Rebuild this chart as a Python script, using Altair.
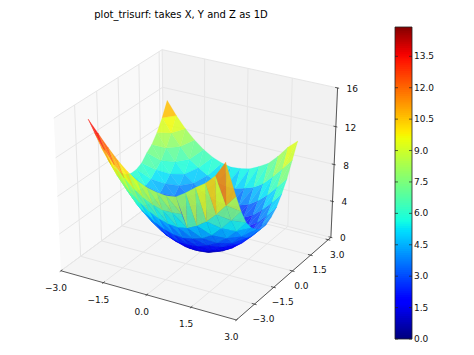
import math
import altair as alt

TITLE = "plot_trisurf: takes X, Y and Z as 1D"
XLIM = (-3.0, 3.0)
YLIM = (-4.37, 3.23)
ZLIM = (0.0, 16.0)
X_TICKS = [-3.0, -1.5, 0.0, 1.5, 3.0]
Y_TICKS = [-3.0, -1.5, 0.0, 1.5, 3.0]
Z_TICKS = [0, 4, 8, 12, 16]
CB_TICKS = [0.0, 1.5, 3.0, 4.5, 6.0, 7.5, 9.0, 10.5, 12.0, 13.5]
CB_MAX = 14.9

ROW_Y = [-3.0, -2.6, -2.2, -1.8, -1.4, -1.0, -0.6, -0.2, 0.2, 0.6, 1.0, 1.4, 1.8, 2.2, 2.6]
ROW_X_LEFT = [-2.55, -2.55, -2.54, -2.54, -2.54, -2.53, -2.53, -2.53, -2.53, -2.53, -2.53, -2.54, -2.54, -2.54, -2.54]
ROW_X_RIGHT = [2.0, 2.0, 2.0, 2.0, 2.0, 2.0, 2.0, 2.0, 2.0, 2.0, 2.0, 2.0, 2.0, 2.0, 2.0]
COLS = 15
# long thin triangles run from the rim (row 0) to row STRIP_ROWS from column STRIP_FROM on
STRIP_ROWS = 2
STRIP_FROM = 9
Z = [
    [14.9, 13.7, 12.5, 11.4, 10.5, 9.8, 9.35, 9.1, 9.0, 9.15, 9.8, 10.6, 11.3, 12.3, 13.9],
    [13.1, 11.6, 10.3, 9.2, 8.3, 7.6, 7.1, 6.8, 6.8, 6.9, 7.5, 8.4, 9.3, 10.4, 11.8],
    [11.2, 9.7, 8.4, 7.2, 6.4, 5.7, 5.2, 4.9, 4.8, 5.0, 5.5, 6.2, 7.2, 8.4, 9.6],
    [9.6, 8.1, 6.8, 5.6, 4.8, 4.1, 3.6, 3.3, 3.2, 3.4, 3.7, 4.3, 5.3, 6.4, 7.6],
    [8.3, 6.8, 5.5, 4.4, 3.5, 2.8, 2.3, 2.0, 2.0, 2.1, 2.5, 3.0, 3.8, 4.8, 6.0],
    [7.4, 5.8, 4.5, 3.4, 2.5, 1.8, 1.4, 1.1, 1.0, 1.1, 1.5, 2.1, 2.8, 3.8, 5.0],
    [6.7, 5.2, 3.9, 2.8, 1.9, 1.2, 0.7, 0.4, 0.4, 0.5, 0.9, 1.4, 2.2, 3.2, 4.4],
    [6.4, 4.9, 3.6, 2.4, 1.6, 0.9, 0.4, 0.1, 0.0, 0.2, 0.5, 1.1, 1.9, 2.9, 4.0],
    [6.4, 4.9, 3.6, 2.4, 1.6, 0.9, 0.4, 0.1, 0.0, 0.2, 0.5, 1.1, 1.9, 2.9, 4.0],
    [6.7, 5.2, 3.9, 2.8, 1.9, 1.2, 0.7, 0.4, 0.4, 0.5, 0.9, 1.4, 2.2, 3.2, 4.4],
    [7.4, 5.8, 4.5, 3.4, 2.5, 1.8, 1.4, 1.1, 1.0, 1.1, 1.5, 2.1, 2.8, 3.8, 5.0],
    [7.9, 6.4, 5.15, 4.1, 3.25, 2.6, 2.1, 1.85, 1.85, 2.0, 2.4, 2.9, 3.75, 4.8, 6.0],
    [8.8, 7.35, 6.1, 4.95, 4.2, 3.55, 3.1, 2.85, 2.8, 3.05, 3.4, 4.05, 4.95, 6.05, 7.2],
    [10.0, 8.6, 7.35, 6.2, 5.5, 4.9, 4.45, 4.2, 4.2, 4.5, 4.85, 5.5, 6.5, 7.6, 8.8],
    [11.5, 10.1, 8.9, 7.9, 7.1, 6.5, 6.1, 5.9, 6.0, 6.2, 6.7, 7.3, 8.3, 9.5, 10.4],
]

JET_POS = [0, .11, .125, .34, .35, .375, .64, .65, .66, .89, .91, 1]
JET_COL = ["#000080", "#0000ff", "#0000ff", "#00dbff", "#00e5f7", "#14ffe2",
           "#efff08", "#f7f600", "#ffec00", "#ff1300", "#f50000", "#800000"]

# camera (mplot3d: elev 30, azim -60, dist 10)
ELEV, AZIM, DIST = math.radians(30), math.radians(-60), 10.0
PX0, PY0, PXS, PYS = 190.0, 172.2, 2025.0, 1743.0
W, H = 458, 339
n = (math.cos(AZIM) * math.cos(ELEV), math.sin(AZIM) * math.cos(ELEV), math.sin(ELEV))
u = (-math.sin(AZIM), math.cos(AZIM), 0.0)
v = (n[1] * u[2] - n[2] * u[1], n[2] * u[0] - n[0] * u[2], n[0] * u[1] - n[1] * u[0])


def norm(x, y, z):
    return ((x - XLIM[0]) / (XLIM[1] - XLIM[0]) - .5,
            (y - YLIM[0]) / (YLIM[1] - YLIM[0]) - .5,
            (z - ZLIM[0]) / (ZLIM[1] - ZLIM[0]) - .5)


def dot(a, b):
    return a[0] * b[0] + a[1] * b[1] + a[2] * b[2]


def proj(x, y, z):
    p = norm(x, y, z)
    w = DIST - dot(p, n)
    return [round(PX0 + PXS * dot(p, u) / w, 2), round(PY0 - PYS * dot(p, v) / w, 2)]


def depth(x, y, z):
    return dot(norm(x, y, z), n)


def line(pts):
    return {"type": "Feature", "properties": {},
            "geometry": {"type": "LineString", "coordinates": [proj(*p) for p in pts]}}


def poly(pts, **props):
    ring = [proj(*p) for p in pts]
    ring.append(ring[0])
    return {"type": "Feature", "properties": props,
            "geometry": {"type": "Polygon", "coordinates": [ring]}}


x0, x1 = XLIM
y0, y1 = YLIM
z0, z1 = ZLIM

wall_left = [poly([(x0, y0, z0), (x0, y1, z0), (x0, y1, z1), (x0, y0, z1)])]
wall_back = [poly([(x0, y1, z0), (x1, y1, z0), (x1, y1, z1), (x0, y1, z1)])]
wall_floor = [poly([(x0, y0, z0), (x1, y0, z0), (x1, y1, z0), (x0, y1, z0)])]

grid = []
for t in X_TICKS:
    grid.append(line([(t, y0, z0), (t, y1, z0), (t, y1, z1)]))
for t in Y_TICKS:
    grid.append(line([(x1, t, z0), (x0, t, z0), (x0, t, z1)]))
for t in Z_TICKS:
    grid.append(line([(x0, y0, t), (x0, y1, t), (x1, y1, t)]))

axes = [
    line([(x0, y0, z0), (x1, y0, z0)]),
    line([(x1, y0, z0), (x1, y1, z0)]),
    line([(x1, y1, z0), (x1, y1, z1)]),
]
for t in X_TICKS:
    axes.append(line([(t, y0 + .1, z0), (t, y0 - .08, z0)]))
for t in Y_TICKS:
    axes.append(line([(x1 - .09, t, z0), (x1 + .07, t, z0)]))
for t in Z_TICKS:
    axes.append(line([(x1 - .08, y1, t), (x1 + .05, y1, t)]))

verts = [[(ROW_X_LEFT[r] + (ROW_X_RIGHT[r] - ROW_X_LEFT[r]) * c / (COLS - 1), ROW_Y[r], Z[r][c])
          for c in range(COLS)] for r in range(len(ROW_Y))]
tris = []
for r in range(len(ROW_Y) - 1):
    for c in range(COLS - 1):
        if c >= STRIP_FROM and r < STRIP_ROWS:
            continue
        a, b, d, e = verts[r][c], verts[r][c + 1], verts[r + 1][c + 1], verts[r + 1][c]
        tris.extend([(a, b, d), (a, d, e)])
for c in range(STRIP_FROM, COLS - 1):
    a, b = verts[0][c], verts[0][c + 1]
    d, e = verts[STRIP_ROWS][c + 1], verts[STRIP_ROWS][c]
    tris.extend([(a, b, e), (b, d, e)])
tris.sort(key=lambda t: sum(depth(*p) for p in t))
surface = [poly(t, z=round(sum(p[2] for p in t) / 3, 3)) for t in tris]

labels = []
for t in X_TICKS:
    p = proj(t, y0, z0)
    labels.append({"px": p[0] - 5, "py": p[1] + 17, "t": f"{t:.1f}".replace("-", "\u2212")})
for t in Y_TICKS:
    p = proj(x1, t, z0)
    labels.append({"px": p[0] + 9, "py": p[1] + 15, "t": f"{t:.1f}".replace("-", "\u2212")})
z_labels = []
for t in Z_TICKS:
    p = proj(x1, y1, t)
    z_labels.append({"px": p[0] + 9, "py": p[1] + 1, "t": str(t)})

jet_domain = [p * CB_MAX for p in JET_POS]
jet = alt.Scale(domain=jet_domain, range=JET_COL, interpolate="rgb")
cb_y = alt.Scale(domain=[0, CB_MAX], range=[331, 19])
pix_x = alt.Scale(domain=[0, W], range=[0, W])
pix_y = alt.Scale(domain=[0, H], range=[0, H])
FONT = "DejaVu Sans"
PROJ = dict(type="identity", scale=1, translate=[0, 0])


def geo(features, mark):
    return alt.Chart(alt.Data(values=features)).mark_geoshape(**mark).project(**PROJ)


walls_l = [geo(wall_left, dict(fill="#f9f9f9", strokeWidth=0)),
           geo(wall_back, dict(fill="#f2f2f2", strokeWidth=0)),
           geo(wall_floor, dict(fill="#f5f5f5", strokeWidth=0))]
grid_l = geo(grid, dict(filled=False, stroke="#e6e6e6", strokeWidth=1.0))
surf_l = geo(surface, dict(opacity=0.85, strokeWidth=0.2)).encode(
    fill=alt.Fill("properties.z:Q", scale=jet, legend=None),
    stroke=alt.Stroke("properties.z:Q", scale=jet, legend=None))
axes_l = geo(axes, dict(filled=False, stroke="#333333", strokeWidth=0.8))

tick_text = alt.Chart(alt.Data(values=labels)).mark_text(
    font=FONT, fontSize=9, color="#111111", align="center", baseline="middle").encode(
    x=alt.X("px:Q", scale=pix_x, axis=None), y=alt.Y("py:Q", scale=pix_y, axis=None), text="t:N")
z_text = alt.Chart(alt.Data(values=z_labels)).mark_text(
    font=FONT, fontSize=9, color="#111111", align="left", baseline="middle").encode(
    x=alt.X("px:Q", scale=pix_x, axis=None), y=alt.Y("py:Q", scale=pix_y, axis=None), text="t:N")
title_l = alt.Chart(alt.Data(values=[{"t": TITLE}])).mark_text(
    font=FONT, fontSize=10, color="#000000", align="center", baseline="middle").encode(
    x=alt.value(173), y=alt.value(6.5), text="t:N")

levels = [{"v": i / 10, "v2": min(CB_MAX, i / 10 + .16)} for i in range(149)]
cb_rect = alt.Chart(alt.Data(values=levels)).mark_rect(strokeWidth=0).encode(
    x=alt.value(387), x2=alt.value(404),
    y=alt.Y("v:Q", scale=cb_y, axis=None), y2="v2:Q",
    fill=alt.Fill("v:Q", scale=jet, legend=None))
cb_frame = alt.Chart(alt.Data(values=[{"v": 0, "v2": CB_MAX}])).mark_rect(
    filled=False, stroke="#222222", strokeWidth=0.8).encode(
    x=alt.value(387), x2=alt.value(404),
    y=alt.Y("v:Q", scale=cb_y, axis=None), y2="v2:Q")
tick_rows = [{"v": t, "t": f"{t:.1f}"} for t in CB_TICKS]
cb_t1 = alt.Chart(alt.Data(values=tick_rows)).mark_rule(color="#222222", strokeWidth=0.7).encode(
    x=alt.value(401), x2=alt.value(404), y=alt.Y("v:Q", scale=cb_y, axis=None))
cb_t2 = alt.Chart(alt.Data(values=tick_rows)).mark_rule(color="#222222", strokeWidth=0.7).encode(
    x=alt.value(387), x2=alt.value(390), y=alt.Y("v:Q", scale=cb_y, axis=None))
cb_text = alt.Chart(alt.Data(values=tick_rows)).mark_text(
    font=FONT, fontSize=9, color="#111111", align="left", baseline="middle").encode(
    x=alt.value(406), y=alt.Y("v:Q", scale=cb_y, axis=None), text="t:N")

chart = alt.layer(*walls_l, grid_l, surf_l, axes_l, tick_text, z_text, title_l,
                  cb_rect, cb_frame, cb_t1, cb_t2, cb_text).resolve_scale(
    y="independent").properties(
    width=W, height=H, padding=0,
    autosize=alt.AutoSizeParams(type="none")).configure_view(stroke=None)
chart.save("out.html", embed_options={"renderer": "svg", "actions": False})
